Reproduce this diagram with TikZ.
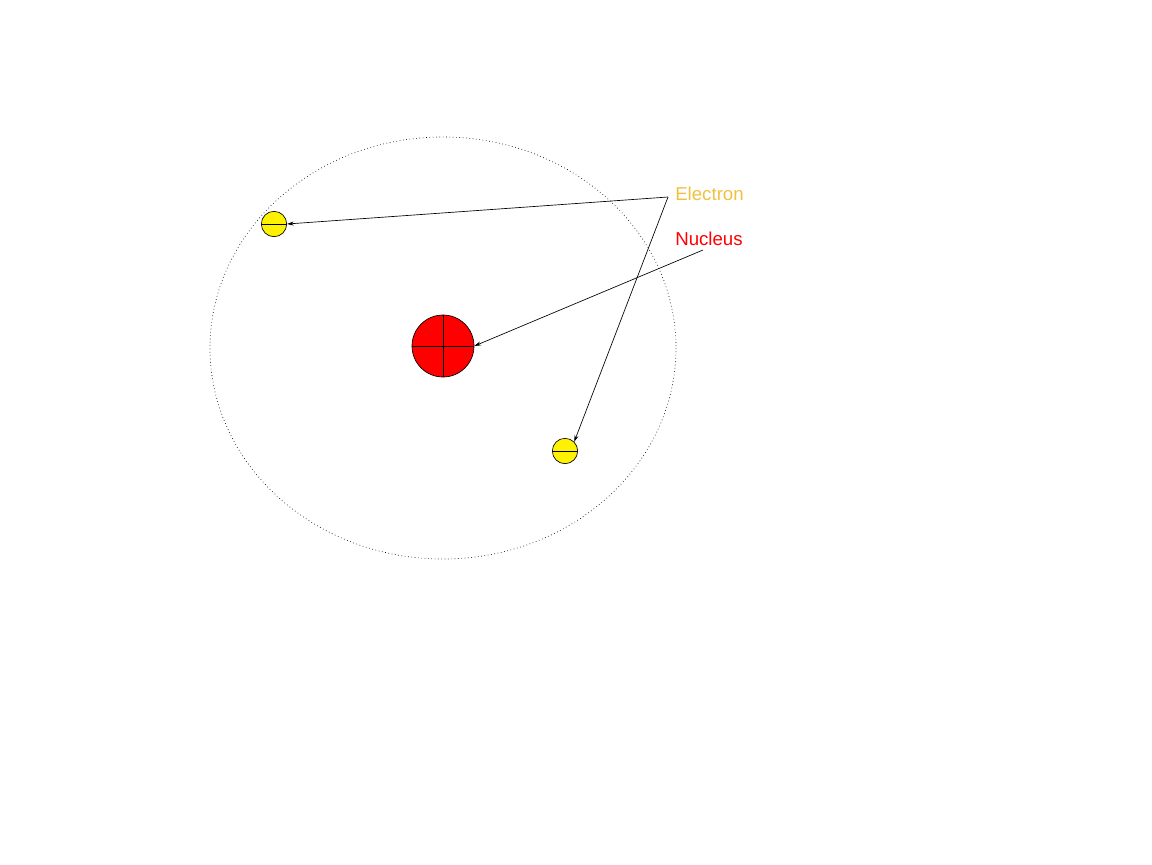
\documentclass[tikz,border=0pt]{standalone}
\usepackage{fontspec}
\setmainfont{Liberation Sans}
\usetikzlibrary{arrows.meta}
\definecolor{elec}{HTML}{F0C040}
\tikzset{lbl/.style={anchor=west,inner sep=0pt,font=\fontsize{14}{16}\selectfont},
 arr/.style={-{Stealth[length=5pt,width=3pt]},line width=0.5pt},
 ebody/.style={circle,draw,fill=yellow,minimum size=19pt,inner sep=0pt,line width=0.5pt}}
\begin{document}
\begin{tikzpicture}[x=0.75pt,y=-0.75pt]
\useasboundingbox (0,0) rectangle (1152,864);
\draw[dotted,line width=0.5pt] (443,348) ellipse [x radius=233, y radius=211];
\node[circle,draw,fill=red,minimum size=46.5pt,inner sep=0pt,line width=0.5pt] (nuc) at (443,346) {};
\draw[line width=0.6pt] (nuc.west)--(nuc.east) (nuc.north)--(nuc.south);
\node[ebody] (e1) at (274,224) {};
\draw[line width=0.6pt] (e1.west)--(e1.east);
\node[ebody] (e2) at (565,451) {};
\draw[line width=0.6pt] (e2.west)--(e2.east);
\node[lbl,text=elec] (el) at (675,194) {Electron};
\node[lbl,text=red] (nl) at (675,239) {Nucleus};
\coordinate (ea) at (668,197);
\coordinate (na) at (703,250);
\draw[arr] (ea) -- (e1.east);
\draw[arr] (ea) -- (e2.north east);
\draw[arr] (na) -- (nuc.east);
\end{tikzpicture}
\end{document}
